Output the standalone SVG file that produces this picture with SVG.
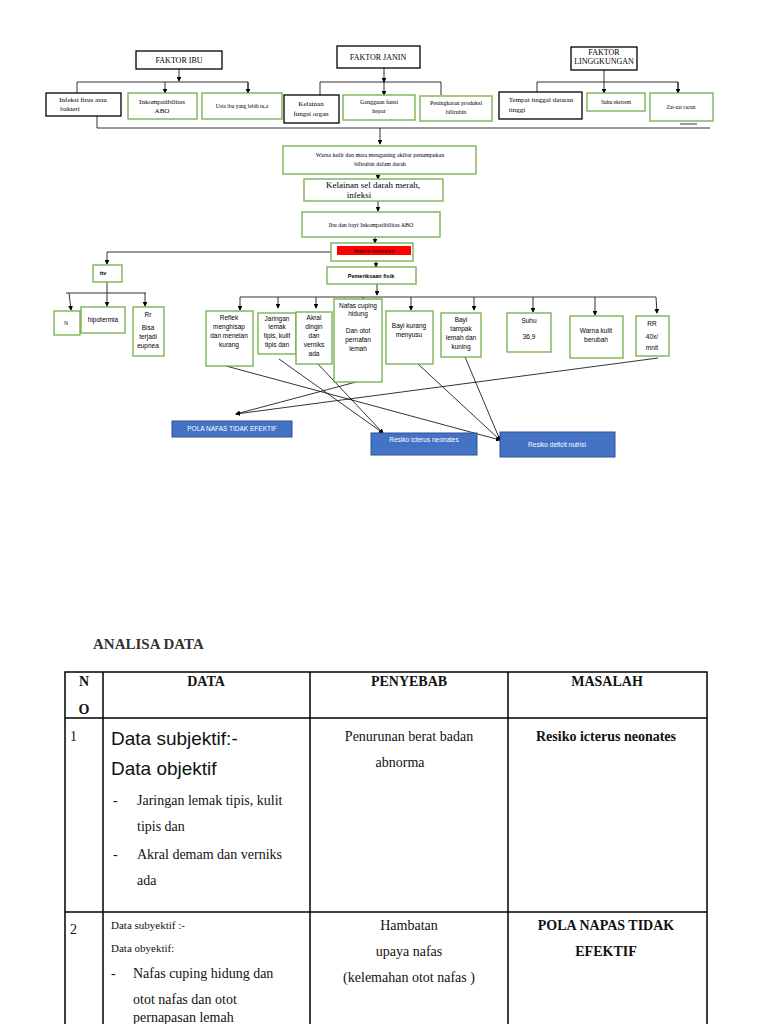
<svg xmlns="http://www.w3.org/2000/svg" width="768" height="1024" viewBox="0 0 768 1024">
<defs><marker id="a" markerWidth="6" markerHeight="6" refX="5" refY="3" orient="auto"><path d="M0,0L6,3L0,6z" fill="#000"/></marker></defs>
<style>
.k{fill:#fff;stroke:#000;stroke-width:1.3}
.g{fill:#fff;stroke:#70ad47;stroke-width:1.3}
.b{fill:#4472c4;stroke:#2f528f}
text{font-family:"Liberation Serif",serif;font-size:8px;text-anchor:middle}
.s{font-family:"Liberation Sans Narrow","Liberation Sans",sans-serif;font-size:6.5px}
.w{fill:#fff}
.c line,.c path{stroke:#000;stroke-width:0.8;fill:none}
#table text{font-size:14px;fill:#111}
#table .t{text-anchor:start}
#table .big{font-size:19px;font-family:"Liberation Sans Narrow",sans-serif}
#table .sm{font-size:11px}
#table .hd{font-size:15px;font-weight:bold;fill:#333}
</style>
<rect width="768" height="1024" fill="#fff"/>
<g class="c">
<line x1="179" y1="69" x2="179" y2="81" marker-end="url(#a)"/>
<path d="M77,93V82H248V93"/><line x1="165" y1="82" x2="165" y2="93" marker-end="url(#a)"/><line x1="248" y1="82" x2="248" y2="93" marker-end="url(#a)"/>
<line x1="384" y1="68" x2="384" y2="82" marker-end="url(#a)"/>
<path d="M320,95V82H441V95"/><line x1="384" y1="82" x2="384" y2="95" marker-end="url(#a)"/>
<line x1="604" y1="70" x2="604" y2="82"/>
<path d="M537,92V82H678V93"/><line x1="604" y1="82" x2="604" y2="93" marker-end="url(#a)"/><line x1="678" y1="82" x2="678" y2="93" marker-end="url(#a)"/>
<path d="M97,116V128H710" stroke="#888"/><line x1="680" y1="124" x2="697" y2="124"/>
<line x1="380" y1="128" x2="380" y2="144" marker-end="url(#a)"/>
<line x1="378" y1="174" x2="378" y2="179" marker-end="url(#a)"/>
<line x1="378" y1="201" x2="378" y2="211" marker-end="url(#a)"/>
<line x1="375" y1="237" x2="375" y2="243" marker-end="url(#a)"/>
<path d="M331,252H107V264" marker-end="url(#a)"/>
<line x1="376" y1="261" x2="376" y2="267" marker-end="url(#a)"/>
<line x1="107" y1="282" x2="107" y2="293"/>
<path d="M66,293H146" stroke="#888"/>
<line x1="69" y1="293" x2="71" y2="310" marker-end="url(#a)"/><line x1="107" y1="293" x2="107" y2="306" marker-end="url(#a)"/><line x1="145" y1="293" x2="145" y2="306" marker-end="url(#a)"/>
<line x1="377" y1="284" x2="377" y2="295" marker-end="url(#a)"/>
<path d="M240,297H656" stroke="#888"/>
<line x1="240" y1="297" x2="240" y2="310" marker-end="url(#a)"/><line x1="278" y1="297" x2="278" y2="308" marker-end="url(#a)"/><line x1="316" y1="297" x2="316" y2="308" marker-end="url(#a)"/><line x1="363" y1="297" x2="363" y2="308" marker-end="url(#a)"/><line x1="411" y1="297" x2="411" y2="310" marker-end="url(#a)"/><line x1="474" y1="297" x2="474" y2="310" marker-end="url(#a)"/><line x1="533" y1="297" x2="533" y2="312" marker-end="url(#a)"/><line x1="595" y1="297" x2="595" y2="315" marker-end="url(#a)"/><line x1="656" y1="297" x2="657" y2="313" stroke="#4472c4" marker-end="url(#a)"/>
<line x1="226" y1="366" x2="500" y2="440" marker-end="url(#a)"/>
<line x1="279" y1="359" x2="383" y2="433" marker-end="url(#a)"/>
<line x1="318" y1="364" x2="383" y2="433" marker-end="url(#a)"/>
<line x1="356" y1="382" x2="236" y2="414" marker-end="url(#a)"/>
<line x1="658" y1="358" x2="236" y2="414" marker-end="url(#a)"/>
<line x1="418" y1="364" x2="500" y2="440" marker-end="url(#a)"/>
<line x1="465" y1="357" x2="500" y2="440" marker-end="url(#a)"/>
</g>
<g id="fibu"><rect class="k" x="136" y="51" width="86" height="18"/><text x="179" y="63">FAKTOR IBU</text></g>
<g id="fjanin"><rect class="k" x="337" y="46" width="83" height="22"/><text x="378" y="60">FAKTOR JANIN</text></g>
<g id="fling"><rect class="k" x="571" y="47" width="66" height="23"/><text x="604" y="55" font-size="6">FAKTOR</text><text x="604" y="64" font-size="6">LINGGKUNGAN</text></g>
<g id="n1"><rect class="k" x="46" y="93" width="75" height="23"/><text x="83" y="102" style="font-size:7px">Infeksi firus atau</text><text x="70" y="111" style="font-size:7px">bakteri</text></g>
<g id="n2"><rect class="g" x="128" y="93" width="69" height="26"/><text x="162" y="104" style="font-size:7px">Inkompatibilitas</text><text x="162" y="113" style="font-size:7px">ABO</text></g>
<g id="n3"><rect class="g" x="202" y="93" width="80" height="26"/><text x="242" y="108" style="font-size:5.5px">Usia ibu yang lebih tu,a</text></g>
<g id="n4"><rect class="k" x="284" y="95" width="55" height="28"/><text x="311" y="106" style="font-size:7px">Kelainan</text><text x="311" y="116" style="font-size:7px">fungsi organ</text></g>
<g id="n5"><rect class="g" x="343" y="95" width="72" height="25"/><text x="379" y="104" style="font-size:6px">Gangguan funsi</text><text x="379" y="113" style="font-size:6px">hepar</text></g>
<g id="n6"><rect class="g" x="420" y="96" width="72" height="25"/><text x="456" y="105" style="font-size:6px">Peningkatan produksi</text><text x="456" y="114" style="font-size:6px">bilirubin</text></g>
<g id="n7"><rect class="k" x="499" y="92" width="83" height="27"/><text x="541" y="102" style="font-size:7px">Tempat tinggal dataran</text><text x="517" y="112" style="font-size:7px">tinggi</text></g>
<g id="n8"><rect class="g" x="587" y="93" width="58" height="18"/><text x="616" y="104" style="font-size:5.5px">Suhu ekstrem</text></g>
<g id="n9"><rect class="g" x="650" y="93" width="63" height="28"/><text x="681" y="109" style="font-size:5.5px">Zat-zat racun</text></g>
<g id="warna"><rect class="g" x="283" y="146" width="193" height="28"/><text x="380" y="157" style="font-size:6px">Warna kulit dan mata menguning akibat penumpukan</text><text x="380" y="166" style="font-size:6px">bilirubin dalam darah</text></g>
<g id="ksel"><rect class="g" x="304" y="179" width="139" height="22"/><text x="373" y="188" style="font-size:9px">Kelainan sel darah merah,</text><text x="359" y="198" style="font-size:9px">infeksi</text></g>
<g id="ibubayi"><rect class="g" x="302" y="212" width="138" height="25"/><text x="371" y="227" style="font-size:6px">Ibu dan bayi Inkompatibilitas ABO</text></g>
<g id="ikt"><rect class="g" x="331" y="243" width="82" height="18"/><rect x="337" y="246" width="74" height="9" fill="#f00"/><text class="s" x="374" y="253" style="font-size:5.5px">Ikterus neonates</text></g>
<g id="pem"><rect class="g" x="327" y="267" width="89" height="17"/><text class="s" x="371" y="278" font-weight="bold" style="font-size:5.5px">Pemeriksaan fisik</text></g>
<g id="ttv"><rect class="g" x="93" y="265" width="29" height="17"/><text class="s" x="103" y="275" font-weight="bold" style="font-size:5.5px">ttv</text></g>
<g id="nN"><rect class="g" x="54" y="311" width="26" height="24"/><text class="s" x="66" y="325" style="font-size:5px">N</text></g>
<g id="hipo"><rect class="g" x="81" y="307" width="44" height="26"/><text class="s" x="103" y="322">hipotermia</text></g>
<g id="rr1"><rect class="g" x="133" y="307" width="31" height="49"/><text class="s" x="148" y="317">Rr</text><text class="s" x="148" y="330">Bisa</text><text class="s" x="148" y="339">terjadi</text><text class="s" x="148" y="348">eupnea</text></g>
<g id="p1"><rect class="g" x="206" y="311" width="47" height="55"/><text class="s" x="229" y="320">Reflek</text><text class="s" x="229" y="329">menghisap</text><text class="s" x="229" y="338">dan menelan</text><text class="s" x="229" y="347">kurang</text></g>
<g id="p2"><rect class="g" x="258" y="313" width="38" height="41"/><text class="s" x="277" y="321">Jaringan</text><text class="s" x="277" y="329">lemak</text><text class="s" x="277" y="338">tipis, kulit</text><text class="s" x="277" y="347">tipis dan</text></g>
<g id="p3"><rect class="g" x="296" y="312" width="36" height="52"/><text class="s" x="314" y="320">Akral</text><text class="s" x="314" y="329">dingin</text><text class="s" x="314" y="338">dan</text><text class="s" x="314" y="347">verniks</text><text class="s" x="314" y="356">ada</text></g>
<g id="p4"><rect class="g" x="334" y="299" width="48" height="83"/><text class="s" x="358" y="308">Nafas cuping</text><text class="s" x="358" y="316">hidung</text><text class="s" x="358" y="333">Dan otot</text><text class="s" x="358" y="342">pernafan</text><text class="s" x="358" y="351">lemah</text></g>
<g id="p5"><rect class="g" x="386" y="311" width="47" height="53"/><text class="s" x="409" y="328">Bayi kurang</text><text class="s" x="409" y="337">menyusu</text></g>
<g id="p6"><rect class="g" x="441" y="313" width="40" height="44"/><text class="s" x="461" y="322">Bayi</text><text class="s" x="461" y="331">tampak</text><text class="s" x="461" y="340">lemah dan</text><text class="s" x="461" y="349">kuning</text></g>
<g id="p7"><rect class="g" x="507" y="313" width="44" height="39"/><text class="s" x="529" y="323">Suhu</text><text class="s" x="529" y="339">36,9</text></g>
<g id="p8"><rect class="g" x="570" y="316" width="53" height="42"/><text class="s" x="596" y="333">Warna kulit</text><text class="s" x="596" y="342">berubah</text></g>
<g id="p9"><rect class="g" x="636" y="316" width="33" height="40"/><text class="s" x="652" y="326">RR</text><text class="s" x="652" y="339">40x/</text><text class="s" x="652" y="350">mnit</text></g>
<g id="d1"><rect class="b" x="172" y="421" width="120" height="16"/><text class="s w" x="232" y="431">POLA NAFAS TIDAK EFEKTIF</text></g>
<g id="d2"><rect class="b" x="371" y="433" width="106" height="22"/><text class="s w" x="424" y="442">Resiko icterus neonates</text></g>
<g id="d3"><rect class="b" x="500" y="432" width="115" height="25"/><text class="s w" x="557" y="447">Resiko deficit nutrisi</text></g>
<g id="table">
<text class="t hd" x="93" y="649">ANALISA DATA</text>
<g stroke="#000" stroke-width="1.5" fill="none"><rect x="65" y="672" width="642" height="360"/><line x1="103" y1="672" x2="103" y2="1024"/><line x1="310" y1="672" x2="310" y2="1024"/><line x1="508" y1="672" x2="508" y2="1024"/><line x1="65" y1="718" x2="707" y2="718"/><line x1="65" y1="912" x2="707" y2="912"/></g>
<text x="84" y="686" font-weight="bold">N</text><text x="84" y="714" font-weight="bold">O</text>
<text x="206" y="686" font-weight="bold">DATA</text><text x="409" y="686" font-weight="bold">PENYEBAB</text><text x="607" y="686" font-weight="bold">MASALAH</text>
<text class="t" x="70" y="741">1</text>
<text class="t big" x="111" y="745">Data subjektif:-</text>
<text class="t big" x="111" y="775">Data objektif</text>
<text class="t" x="113" y="805">-</text><text class="t" x="137" y="805">Jaringan lemak tipis, kulit</text><text class="t" x="137" y="831">tipis dan</text>
<text class="t" x="113" y="859">-</text><text class="t" x="137" y="859">Akral demam dan verniks</text><text class="t" x="137" y="885">ada</text>
<text x="409" y="741">Penurunan berat badan</text><text x="400" y="767">abnorma</text>
<text x="606" y="741" font-weight="bold">Resiko icterus neonates</text>
<text class="t" x="70" y="934">2</text>
<text class="t sm" x="111" y="929">Data subyektif :-</text>
<text class="t sm" x="111" y="952">Data obyektif:</text>
<text class="t" x="111" y="978">-</text><text class="t" x="133" y="978">Nafas cuping hidung dan</text><text class="t" x="133" y="1004">otot nafas dan otot</text><text class="t" x="133" y="1022">pernapasan lemah</text>
<text x="409" y="930">Hambatan</text><text x="409" y="956">upaya nafas</text><text x="409" y="982">(kelemahan otot nafas )</text>
<text x="606" y="930" font-weight="bold">POLA NAPAS TIDAK</text><text x="606" y="956" font-weight="bold">EFEKTIF</text>
</g>
</svg>
